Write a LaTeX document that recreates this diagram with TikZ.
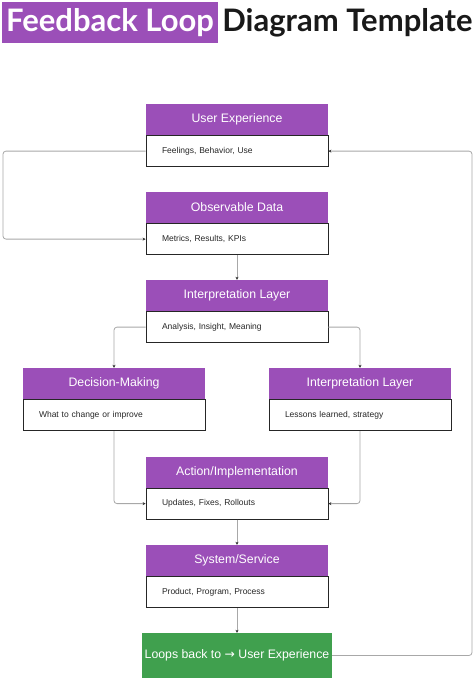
\documentclass[tikz,border=0pt]{standalone}
\usepackage{fontspec}
\setmainfont{Liberation Sans}
\newfontfamily\titlefont{Lato}
\newfontfamily\arrowfont{DejaVu Sans}
\usetikzlibrary{arrows.meta}
\usetikzlibrary{positioning}
\usetikzlibrary{calc}

\definecolor{hdpurple}{RGB}{155,79,184}
\definecolor{loopgreen}{RGB}{64,160,78}
\definecolor{linegray}{RGB}{168,168,168}

\begin{document}
\begin{tikzpicture}
  [x=1pt, y=-1pt,
   header/.style = {fill=hdpurple, text=white, inner sep=0pt,
                    minimum width=182pt, minimum height=31pt, font=\fontsize{12.3}{14}\selectfont},
   body/.style = {draw=black!85, line width=0.8pt, inner xsep=16pt, inner ysep=0pt,
                  text width=150pt, align=left, minimum height=31pt, text=black!85,
                  font=\fontsize{8.5}{10}\selectfont},
   link/.style = {draw=linegray, line width=0.8pt, rounded corners=3pt,
                  -{Stealth[length=3pt, width=3pt, black!80]}}]
  \useasboundingbox (0, 0) rectangle (474, 678);

  % title
  \node [fill=hdpurple, text=white, inner sep=0pt, minimum width=216pt, minimum height=41pt,
         font=\titlefont\bfseries\fontsize{31}{33}\selectfont] (ttla) at (110, 22.5) {Feedback Loop};
  \node [anchor=base west, inner sep=0pt, text=black!90,
         font=\titlefont\bfseries\fontsize{31}{33}\selectfont] (ttlb) at ([xshift=4pt]ttla.base east) {Diagram Template};

  % boxes
  \node [header] (ueh) at (237, 119.5) {User Experience};
  \node [body, below=0pt of ueh] (ueb) {Feelings, Behavior, Use};

  \node [header] (odh) at (237, 207.5) {Observable Data};
  \node [body, below=0pt of odh] (odb) {Metrics, Results, KPIs};

  \node [header] (ilh) at (237, 295.5) {Interpretation Layer};
  \node [body, below=0pt of ilh] (ilb) {Analysis, Insight, Meaning};

  \node [header] (dmh) at (114, 383.5) {Decision-Making};
  \node [body, below=0pt of dmh] (dmb) {What to change or improve};

  \node [header] (irh) at (360, 383.5) {Interpretation Layer};
  \node [body, below=0pt of irh] (irb) {Lessons learned, strategy};

  \node [header] (aih) at (237, 472) {Action/Implementation};
  \node [body, below=0pt of aih] (aib) {Updates, Fixes, Rollouts};

  \node [header] (ssh) at (237, 560.5) {System/Service};
  \node [body, below=0pt of ssh] (ssb) {Product, Program, Process};

  \node [fill=loopgreen, text=white, inner sep=0pt, minimum width=190pt, minimum height=45pt,
         font=\fontsize{12.3}{14}\selectfont] (lp) at (237, 655.5) {Loops back to {\arrowfont →} User Experience};

  \coordinate (lft) at (3, 0);
  \coordinate (rgt) at (472, 0);

  % connectors
  \draw [link] (ueb.west) -- (ueb.west -| lft) -- (odb.west -| lft) -- (odb.west);
  \draw [link] (odb.south) -- (ilh.north);
  \draw [link] (ilb.west) -| (dmh.north);
  \draw [link] (ilb.east) -| (irh.north);
  \draw [link] (dmb.south) |- (aib.west);
  \draw [link] (irb.south) |- (aib.east);
  \draw [link] (aib.south) -- (ssh.north);
  \draw [link] (ssb.south) -- (lp.north);
  \draw [link] (lp.east) -- (lp.east -| rgt) -- (ueb.east -| rgt) -- (ueb.east);
\end{tikzpicture}
\end{document}
